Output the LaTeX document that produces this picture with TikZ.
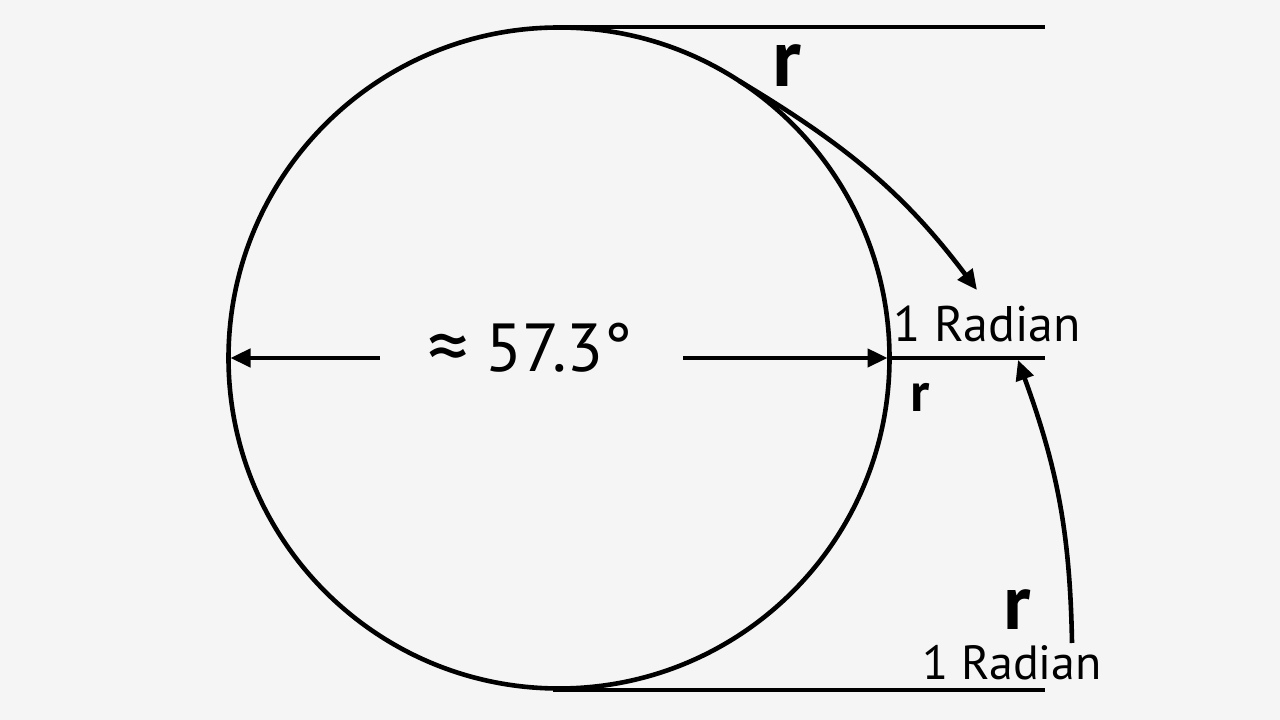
\documentclass[tikz,border=0pt]{standalone}
\usepackage{fontspec}
\setmainfont{PT Sans}
\usetikzlibrary{arrows.meta}
\definecolor{bg}{RGB}{245,245,245}
\begin{document}
\begin{tikzpicture}[x=1pt,y=1pt,
  ln/.style={line width=4.6pt},
  arr/.style={line width=4.6pt,-{Triangle[length=20pt,width=18pt]}},
  lab/.style={inner sep=0pt,anchor=base}]
\fill[bg] (0,0) rectangle (1280,720);
\useasboundingbox (0,0) rectangle (1280,720);
\node[circle,draw,line width=4.6pt,minimum size=661pt,inner sep=0pt,outer sep=0pt] (C) at (559,362) {};
\coordinate (T1) at (553,693); \coordinate (T2) at (1045,693);
\coordinate (B1) at (553,30);  \coordinate (B2) at (1045,30);
\coordinate (M2) at (1045,362);
\draw[ln] (T1) -- (T2);
\draw[ln] (B1) -- (B2);
\draw[ln] (C.east) -- (M2);
% diameter arrows
\coordinate (DL) at (380,362);
\coordinate (DR) at (683,362);
\draw[arr,shorten >=2pt] (DL) -- (C.west);
\draw[arr,shorten >=2pt] (DR) -- (C.east);
\node[lab,font=\fontsize{68}{70}\selectfont] (D) at (530,348) {\raisebox{-4pt}{\fontsize{82}{82}\selectfont ≈}\hspace{17pt}57.3°};
% curved arrows
\coordinate (A1) at (977,430);
\draw[arr] (C.57) to[out=-31,in=127] (A1);
\coordinate (S2) at (1072,77);
\coordinate (E2) at (1018,360);
\draw[arr] (S2) to[out=91,in=-70] (E2);
% labels
\node[lab,font=\bfseries\fontsize{82}{90}\selectfont] (r1) at (787,633) {r};
\node[lab,font=\fontsize{50}{60}\selectfont] (R1) at (987,378) {1 Radian};
\node[lab,font=\bfseries\fontsize{55}{60}\selectfont] (r2) at (920,308) {r};
\node[lab,font=\bfseries\fontsize{78}{80}\selectfont] (r3) at (1017,90) {r};
\node[lab,font=\fontsize{48}{60}\selectfont] (R2) at (1012,40) {1 Radian};
\end{tikzpicture}
\end{document}
